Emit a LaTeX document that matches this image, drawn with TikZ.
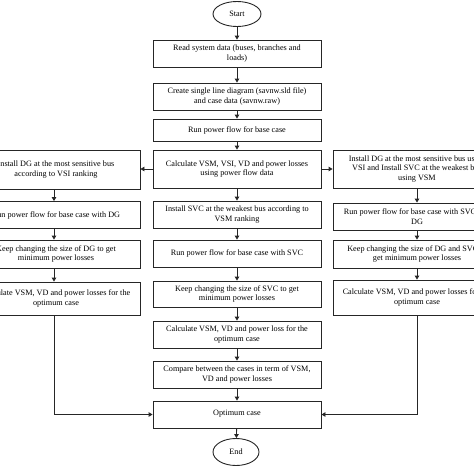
\documentclass[tikz,border=0pt]{standalone}
\usepackage{fontspec}
\setmainfont{Liberation Serif}
\usetikzlibrary{arrows.meta,shapes.geometric}
\begin{document}
\begin{tikzpicture}[x=1pt,y=-1pt,
  font=\fontsize{8.2}{9.6}\selectfont,
  box/.style={draw=black!85,line width=0.9pt,minimum width=168pt,align=center,inner sep=0pt,fill=white},
  oval/.style={draw=black!85,line width=0.9pt,ellipse,inner sep=0pt,fill=white},
  arr/.style={draw=black!85,line width=0.9pt,-{Triangle[length=4pt,width=4.5pt]}}]
\clip (0,0) rectangle (474,474);
\fill[white] (0,0) rectangle (474,474);
% center column
\node[oval,minimum width=48pt,minimum height=25pt] (start) at (237,14) {Start};
\node[box,minimum height=27pt] (b1) at (237,53.5) {Read system data (buses, branches and\\loads)};
\node[box,minimum height=27pt] (b2) at (237,96.5) {Create single line diagram (savnw.sld file)\\and case data (savnw.raw)};
\node[box,minimum height=22pt] (b3) at (237,130) {Run power flow for base case};
\node[box,minimum height=38pt] (b4) at (237,169) {Calculate VSM, VSI, VD and power losses\\using power flow data};
\node[box,minimum height=27pt] (b5) at (237,214.5) {Install SVC at the weakest bus according to\\VSM ranking};
\node[box,minimum height=27pt] (b6) at (237,253.5) {Run power flow for base case with SVC};
\node[box,minimum height=26pt] (b7) at (237,294) {Keep changing the size of SVC to get\\minimum power losses};
\node[box,minimum height=27pt] (b8) at (237,334.5) {Calculate VSM, VD and power loss for the\\optimum case};
\node[box,minimum height=27pt] (b9) at (237,374.5) {Compare between the cases in term of VSM,\\VD and power losses};
\node[box,minimum height=27pt] (b10) at (237,414.5) {\raisebox{4pt}{Optimum case}};
\node[oval,minimum width=46pt,minimum height=27pt] (end) at (236,452) {End};
% left column
\node[box,minimum height=39pt] (l1) at (56,169.5) {Install DG at the most sensitive bus\\according to VSI ranking};
\node[box,minimum height=27pt] (l2) at (56,215) {Run power flow for base case with DG};
\node[box,minimum height=28pt] (l3) at (56,254) {Keep changing the size of DG to get\\minimum power losses};
\node[box,minimum height=33pt] (l4) at (56,298.5) {Calculate VSM, VD and power losses for the\\optimum case};
% right column
\node[box,minimum height=38pt] (r1) at (417,169) {Install DG at the most sensitive bus using\\VSI and Install SVC at the weakest bus\\using VSM};
\node[box,minimum height=27pt] (r2) at (417,216.5) {Run power flow for base case with SVC and\\DG};
\node[box,minimum height=28pt] (r3) at (417,254) {Keep changing the size of DG and SVC to\\get minimum power losses};
\node[box,minimum height=35pt] (r4) at (417,297.5) {Calculate VSM, VD and power losses for the\\optimum case};
% connectors
\draw[arr] (start) -- (b1);
\draw[arr] (b1) -- (b2);
\draw[arr] (b2) -- (b3);
\draw[arr] (b3) -- (b4);
\draw[arr] (b4) -- (b5);
\draw[arr] (b5) -- (b6);
\draw[arr] (b6) -- (b7);
\draw[arr] (b7) -- (b8);
\draw[arr] (b8) -- (b9);
\draw[arr] (b9) -- (b10);
\draw[arr] (b10) -- (end);
\draw[arr] (b4.west) -- (l1.east |- b4.west);
\draw[arr] (b4.east) -- (r1.west |- b4.east);
\draw[arr] (l1.south -| 54,0) -- (l2.north -| 54,0);
\draw[arr] (l2.south -| 54,0) -- (l3.north -| 54,0);
\draw[arr] (l3.south -| 54,0) -- (l4.north -| 54,0);
\draw[arr] (r1) -- (r2);
\draw[arr] (r2) -- (r3);
\draw[arr] (r3) -- (r4);
\draw[arr] (l4.south -| 54,0) |- (b10.west);
\draw[arr] (r4.south) |- (b10.east);
\end{tikzpicture}
\end{document}
